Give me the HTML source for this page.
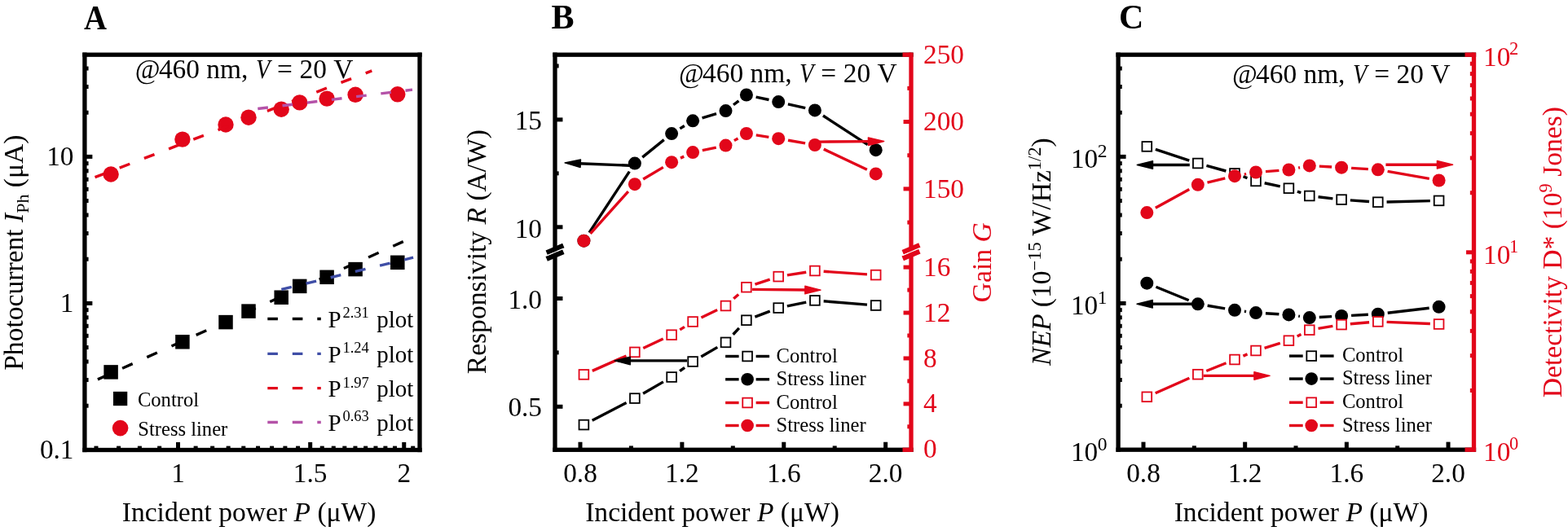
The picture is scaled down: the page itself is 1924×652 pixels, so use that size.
<!DOCTYPE html>
<html><head><meta charset="utf-8"><title>Figure</title>
<style>html,body{margin:0;padding:0;background:#fff;width:1924px;height:652px;overflow:hidden}svg{display:block}</style>
</head><body>
<svg width="1924" height="652" viewBox="0 0 1924 652" font-family="'Liberation Serif','Times New Roman',serif">
<rect width="1924" height="652" fill="#fff"/>
<rect x="127.35" y="448.15" width="17.5" height="17.5" fill="#000"/>
<rect x="215.15" y="411.05" width="17.5" height="17.5" fill="#000"/>
<rect x="268.25" y="386.85" width="17.5" height="17.5" fill="#000"/>
<rect x="296.25" y="373.35" width="17.5" height="17.5" fill="#000"/>
<rect x="336.45" y="356.45" width="17.5" height="17.5" fill="#000"/>
<rect x="358.95" y="342.65" width="17.5" height="17.5" fill="#000"/>
<rect x="392.35" y="331.55" width="17.5" height="17.5" fill="#000"/>
<rect x="427.35" y="321.85" width="17.5" height="17.5" fill="#000"/>
<rect x="479.05" y="313.55" width="17.5" height="17.5" fill="#000"/>
<circle cx="136.1" cy="214" r="9.7" fill="#e2061a"/>
<circle cx="223.9" cy="171.1" r="9.7" fill="#e2061a"/>
<circle cx="277" cy="153" r="9.7" fill="#e2061a"/>
<circle cx="305" cy="144.2" r="9.7" fill="#e2061a"/>
<circle cx="345.2" cy="134.2" r="9.7" fill="#e2061a"/>
<circle cx="367.7" cy="125.9" r="9.7" fill="#e2061a"/>
<circle cx="401.1" cy="121.1" r="9.7" fill="#e2061a"/>
<circle cx="436.1" cy="116.3" r="9.7" fill="#e2061a"/>
<circle cx="487.8" cy="115.8" r="9.7" fill="#e2061a"/>
<line x1="119.9" y1="465.9" x2="494.8" y2="296.64" stroke="#000" stroke-width="3.4" stroke-linecap="butt" stroke-dasharray="13.82 19.31"/>
<line x1="345.3" y1="355.4" x2="507.1" y2="316.19" stroke="#3f4ea6" stroke-width="3.4" stroke-linecap="butt" stroke-dasharray="12.96 18.11"/>
<line x1="116.5" y1="217.69" x2="456.3" y2="86.87" stroke="#e2061a" stroke-width="3.4" stroke-linecap="butt" stroke-dasharray="13.5 18.86"/>
<line x1="316.3" y1="133.5" x2="506" y2="110.15" stroke="#b452a8" stroke-width="3.4" stroke-linecap="butt" stroke-dasharray="12.7 17.73"/>
<rect x="101.25" y="64.55" width="416.4" height="5.3" fill="#000"/>
<rect x="101.25" y="549.85" width="416.4" height="5.3" fill="#000"/>
<rect x="101.25" y="64.55" width="5.3" height="490.6" fill="#000"/>
<rect x="512.35" y="64.55" width="5.3" height="490.6" fill="#000"/>
<rect x="216" y="542.95" width="5" height="7.9" fill="#000"/>
<rect x="378.18" y="542.95" width="5" height="7.9" fill="#000"/>
<rect x="493.25" y="542.95" width="5" height="7.9" fill="#000"/>
<rect x="115.48" y="547.65" width="5" height="3.2" fill="#000"/>
<rect x="143.07" y="547.65" width="5" height="3.2" fill="#000"/>
<rect x="168.89" y="547.65" width="5" height="3.2" fill="#000"/>
<rect x="193.14" y="547.65" width="5" height="3.2" fill="#000"/>
<rect x="237.63" y="547.65" width="5" height="3.2" fill="#000"/>
<rect x="258.14" y="547.65" width="5" height="3.2" fill="#000"/>
<rect x="277.66" y="547.65" width="5" height="3.2" fill="#000"/>
<rect x="296.27" y="547.65" width="5" height="3.2" fill="#000"/>
<rect x="314.05" y="547.65" width="5" height="3.2" fill="#000"/>
<rect x="331.07" y="547.65" width="5" height="3.2" fill="#000"/>
<rect x="347.4" y="547.65" width="5" height="3.2" fill="#000"/>
<rect x="363.08" y="547.65" width="5" height="3.2" fill="#000"/>
<rect x="392.73" y="547.65" width="5" height="3.2" fill="#000"/>
<rect x="406.76" y="547.65" width="5" height="3.2" fill="#000"/>
<rect x="420.32" y="547.65" width="5" height="3.2" fill="#000"/>
<rect x="433.44" y="547.65" width="5" height="3.2" fill="#000"/>
<rect x="446.14" y="547.65" width="5" height="3.2" fill="#000"/>
<rect x="458.45" y="547.65" width="5" height="3.2" fill="#000"/>
<rect x="470.39" y="547.65" width="5" height="3.2" fill="#000"/>
<rect x="481.98" y="547.65" width="5" height="3.2" fill="#000"/>
<rect x="504.21" y="547.65" width="5" height="3.2" fill="#000"/>
<rect x="105.55" y="549.9" width="7.8" height="5" fill="#000"/>
<rect x="105.55" y="369.9" width="7.8" height="5" fill="#000"/>
<rect x="105.55" y="189.9" width="7.8" height="5" fill="#000"/>
<rect x="105.55" y="495.71" width="3" height="5" fill="#000"/>
<rect x="105.55" y="464.02" width="3" height="5" fill="#000"/>
<rect x="105.55" y="441.53" width="3" height="5" fill="#000"/>
<rect x="105.55" y="424.09" width="3" height="5" fill="#000"/>
<rect x="105.55" y="409.83" width="3" height="5" fill="#000"/>
<rect x="105.55" y="397.78" width="3" height="5" fill="#000"/>
<rect x="105.55" y="387.34" width="3" height="5" fill="#000"/>
<rect x="105.55" y="378.14" width="3" height="5" fill="#000"/>
<rect x="105.55" y="315.71" width="3" height="5" fill="#000"/>
<rect x="105.55" y="284.02" width="3" height="5" fill="#000"/>
<rect x="105.55" y="261.53" width="3" height="5" fill="#000"/>
<rect x="105.55" y="244.09" width="3" height="5" fill="#000"/>
<rect x="105.55" y="229.83" width="3" height="5" fill="#000"/>
<rect x="105.55" y="217.78" width="3" height="5" fill="#000"/>
<rect x="105.55" y="207.34" width="3" height="5" fill="#000"/>
<rect x="105.55" y="198.14" width="3" height="5" fill="#000"/>
<rect x="105.55" y="135.71" width="3" height="5" fill="#000"/>
<rect x="105.55" y="104.02" width="3" height="5" fill="#000"/>
<rect x="105.55" y="81.53" width="3" height="5" fill="#000"/>
<text x="218.5" y="591.7" font-size="33.3" text-anchor="middle">1</text>
<text x="380.68" y="591.7" font-size="33.3" text-anchor="middle">1.5</text>
<text x="495.75" y="591.7" font-size="33.3" text-anchor="middle">2</text>
<text x="90.5" y="562.6" font-size="33.3" text-anchor="end">0.1</text>
<text x="90.5" y="382.6" font-size="33.3" text-anchor="end">1</text>
<text x="90.5" y="202.6" font-size="33.3" text-anchor="end">10</text>
<text x="103" y="36.3" font-size="42" font-weight="bold" textLength="28" lengthAdjust="spacingAndGlyphs">A</text>
<text y="95.7" font-size="33.4"><tspan x="165.8">@</tspan><tspan x="194.9">460 nm,</tspan><tspan x="340.05">=</tspan><tspan x="367.5">20</tspan><tspan x="409.35">V</tspan></text>
<text x="313.9" y="95.7" font-size="33.4" font-style="italic" textLength="17.4" lengthAdjust="spacingAndGlyphs">V</text>
<text x="305.6" y="640.3" font-size="33.6" text-anchor="middle">Incident power <tspan font-style="italic">P</tspan> (&#956;W)</text>
<text x="28.4" y="310.2" font-size="33.6" text-anchor="middle" transform="rotate(-90 28.4 310.2)">Photocurrent <tspan font-style="italic">I</tspan><tspan font-size="22" dy="7">Ph</tspan><tspan dy="-7"> (&#956;A)</tspan></text>
<rect x="138.95" y="480.85" width="17.3" height="17.3" fill="#000"/>
<text x="168.9" y="499.1" font-size="24.6">Control</text>
<circle cx="147.6" cy="525.6" r="9.8" fill="#e2061a"/>
<text x="169.3" y="534.6" font-size="24.6">Stress liner</text>
<line x1="328.3" y1="391.5" x2="393.8" y2="391.5" stroke="#000" stroke-width="3.4" stroke-linecap="butt" stroke-dasharray="12.6 17.9"/>
<text x="402.6" y="401.8" font-size="29">P</text>
<text x="420.4" y="390.4" font-size="18.5">2.31</text>
<text x="462.2" y="401.8" font-size="29">plot</text>
<line x1="328.3" y1="434.4" x2="393.8" y2="434.4" stroke="#3f4ea6" stroke-width="3.4" stroke-linecap="butt" stroke-dasharray="12.6 17.9"/>
<text x="402.6" y="444.7" font-size="29">P</text>
<text x="420.4" y="433.3" font-size="18.5">1.24</text>
<text x="462.2" y="444.7" font-size="29">plot</text>
<line x1="328.3" y1="476.6" x2="393.8" y2="476.6" stroke="#e2061a" stroke-width="3.4" stroke-linecap="butt" stroke-dasharray="12.6 17.9"/>
<text x="402.6" y="486.9" font-size="29">P</text>
<text x="420.4" y="475.5" font-size="18.5">1.97</text>
<text x="462.2" y="486.9" font-size="29">plot</text>
<line x1="328.3" y1="518.5" x2="393.8" y2="518.5" stroke="#b452a8" stroke-width="3.4" stroke-linecap="butt" stroke-dasharray="12.6 17.9"/>
<text x="402.6" y="528.8" font-size="29">P</text>
<text x="420.4" y="517.4" font-size="18.5">0.63</text>
<text x="462.2" y="528.8" font-size="29">plot</text>
<line x1="722.99" y1="285.67" x2="772.31" y2="210.63" stroke="#000" stroke-width="3.4" stroke-linecap="butt"/>
<line x1="788.24" y1="193.06" x2="814.76" y2="171.64" stroke="#000" stroke-width="3.4" stroke-linecap="butt"/>
<line x1="834.35" y1="157.87" x2="839.85" y2="154.53" stroke="#000" stroke-width="3.4" stroke-linecap="butt"/>
<line x1="861.59" y1="144.83" x2="879.01" y2="139.57" stroke="#000" stroke-width="3.4" stroke-linecap="butt"/>
<line x1="900" y1="128.77" x2="906.4" y2="123.83" stroke="#000" stroke-width="3.4" stroke-linecap="butt"/>
<line x1="927.62" y1="119.07" x2="943.48" y2="122.53" stroke="#000" stroke-width="3.4" stroke-linecap="butt"/>
<line x1="966.89" y1="127.79" x2="988.21" y2="132.71" stroke="#000" stroke-width="3.4" stroke-linecap="butt"/>
<line x1="1009.95" y1="141.96" x2="1064.65" y2="177.64" stroke="#000" stroke-width="3.4" stroke-linecap="butt"/>
<line x1="726.7" y1="516.24" x2="768.6" y2="494.46" stroke="#000" stroke-width="3.4" stroke-linecap="butt"/>
<line x1="789.11" y1="483.2" x2="813.89" y2="468.9" stroke="#000" stroke-width="3.4" stroke-linecap="butt"/>
<line x1="834.08" y1="455.71" x2="840.12" y2="451.29" stroke="#000" stroke-width="3.4" stroke-linecap="butt"/>
<line x1="860.3" y1="438.04" x2="880.3" y2="426.36" stroke="#000" stroke-width="3.4" stroke-linecap="butt"/>
<line x1="899.53" y1="410.73" x2="906.87" y2="402.87" stroke="#000" stroke-width="3.4" stroke-linecap="butt"/>
<line x1="926.38" y1="389.17" x2="944.72" y2="382.13" stroke="#000" stroke-width="3.4" stroke-linecap="butt"/>
<line x1="965.87" y1="375.9" x2="989.23" y2="371.1" stroke="#000" stroke-width="3.4" stroke-linecap="butt"/>
<line x1="1010.64" y1="369.78" x2="1063.96" y2="374.12" stroke="#000" stroke-width="3.4" stroke-linecap="butt"/>
<line x1="724.42" y1="286.78" x2="770.88" y2="235.12" stroke="#e2061a" stroke-width="3.4" stroke-linecap="butt"/>
<line x1="789.2" y1="220.05" x2="813.8" y2="205.35" stroke="#e2061a" stroke-width="3.4" stroke-linecap="butt"/>
<line x1="834.98" y1="194.14" x2="839.22" y2="192.16" stroke="#e2061a" stroke-width="3.4" stroke-linecap="butt"/>
<line x1="861.84" y1="184.63" x2="878.76" y2="181.07" stroke="#e2061a" stroke-width="3.4" stroke-linecap="butt"/>
<line x1="900.9" y1="172.62" x2="905.5" y2="169.98" stroke="#e2061a" stroke-width="3.4" stroke-linecap="butt"/>
<line x1="927.75" y1="165.87" x2="943.35" y2="168.33" stroke="#e2061a" stroke-width="3.4" stroke-linecap="butt"/>
<line x1="967.02" y1="172.26" x2="988.08" y2="175.94" stroke="#e2061a" stroke-width="3.4" stroke-linecap="butt"/>
<line x1="1010.75" y1="183.13" x2="1063.85" y2="208.27" stroke="#e2061a" stroke-width="3.4" stroke-linecap="butt"/>
<line x1="726.81" y1="455.32" x2="768.49" y2="436.98" stroke="#e2061a" stroke-width="3.4" stroke-linecap="butt"/>
<line x1="789.27" y1="427.54" x2="813.73" y2="416.06" stroke="#e2061a" stroke-width="3.4" stroke-linecap="butt"/>
<line x1="834.24" y1="404.88" x2="839.96" y2="401.32" stroke="#e2061a" stroke-width="3.4" stroke-linecap="butt"/>
<line x1="860.45" y1="390" x2="880.15" y2="380.5" stroke="#e2061a" stroke-width="3.4" stroke-linecap="butt"/>
<line x1="900.23" y1="366.77" x2="906.17" y2="361.43" stroke="#e2061a" stroke-width="3.4" stroke-linecap="butt"/>
<line x1="926.44" y1="349.19" x2="944.66" y2="343.11" stroke="#e2061a" stroke-width="3.4" stroke-linecap="butt"/>
<line x1="965.9" y1="337.9" x2="989.2" y2="334.2" stroke="#e2061a" stroke-width="3.4" stroke-linecap="butt"/>
<line x1="1010.64" y1="333.23" x2="1063.96" y2="336.87" stroke="#e2061a" stroke-width="3.4" stroke-linecap="butt"/>
<circle cx="716.4" cy="295.7" r="8" fill="#000"/>
<circle cx="778.9" cy="200.6" r="8" fill="#000"/>
<circle cx="824.1" cy="164.1" r="8" fill="#000"/>
<circle cx="850.1" cy="148.3" r="8" fill="#000"/>
<circle cx="890.5" cy="136.1" r="8" fill="#000"/>
<circle cx="915.9" cy="116.5" r="8" fill="#000"/>
<circle cx="955.2" cy="125.1" r="8" fill="#000"/>
<circle cx="999.9" cy="135.4" r="8" fill="#000"/>
<circle cx="1074.7" cy="184.2" r="8" fill="#000"/>
<rect x="710.55" y="515.75" width="11.7" height="11.7" fill="#fff" stroke="#000" stroke-width="1.8"/>
<rect x="773.05" y="483.25" width="11.7" height="11.7" fill="#fff" stroke="#000" stroke-width="1.8"/>
<rect x="818.25" y="457.15" width="11.7" height="11.7" fill="#fff" stroke="#000" stroke-width="1.8"/>
<rect x="844.25" y="438.15" width="11.7" height="11.7" fill="#fff" stroke="#000" stroke-width="1.8"/>
<rect x="884.65" y="414.55" width="11.7" height="11.7" fill="#fff" stroke="#000" stroke-width="1.8"/>
<rect x="910.05" y="387.35" width="11.7" height="11.7" fill="#fff" stroke="#000" stroke-width="1.8"/>
<rect x="949.35" y="372.25" width="11.7" height="11.7" fill="#fff" stroke="#000" stroke-width="1.8"/>
<rect x="994.05" y="363.05" width="11.7" height="11.7" fill="#fff" stroke="#000" stroke-width="1.8"/>
<rect x="1068.85" y="369.15" width="11.7" height="11.7" fill="#fff" stroke="#000" stroke-width="1.8"/>
<circle cx="716.4" cy="295.7" r="8" fill="#e2061a"/>
<circle cx="778.9" cy="226.2" r="8" fill="#e2061a"/>
<circle cx="824.1" cy="199.2" r="8" fill="#e2061a"/>
<circle cx="850.1" cy="187.1" r="8" fill="#e2061a"/>
<circle cx="890.5" cy="178.6" r="8" fill="#e2061a"/>
<circle cx="915.9" cy="164" r="8" fill="#e2061a"/>
<circle cx="955.2" cy="170.2" r="8" fill="#e2061a"/>
<circle cx="999.9" cy="178" r="8" fill="#e2061a"/>
<circle cx="1074.7" cy="213.4" r="8" fill="#e2061a"/>
<rect x="710.55" y="454.05" width="11.7" height="11.7" fill="#fff" stroke="#e2061a" stroke-width="1.8"/>
<rect x="773.05" y="426.55" width="11.7" height="11.7" fill="#fff" stroke="#e2061a" stroke-width="1.8"/>
<rect x="818.25" y="405.35" width="11.7" height="11.7" fill="#fff" stroke="#e2061a" stroke-width="1.8"/>
<rect x="844.25" y="389.15" width="11.7" height="11.7" fill="#fff" stroke="#e2061a" stroke-width="1.8"/>
<rect x="884.65" y="369.65" width="11.7" height="11.7" fill="#fff" stroke="#e2061a" stroke-width="1.8"/>
<rect x="910.05" y="346.85" width="11.7" height="11.7" fill="#fff" stroke="#e2061a" stroke-width="1.8"/>
<rect x="949.35" y="333.75" width="11.7" height="11.7" fill="#fff" stroke="#e2061a" stroke-width="1.8"/>
<rect x="994.05" y="326.65" width="11.7" height="11.7" fill="#fff" stroke="#e2061a" stroke-width="1.8"/>
<rect x="1068.85" y="331.75" width="11.7" height="11.7" fill="#fff" stroke="#e2061a" stroke-width="1.8"/>
<line x1="772.5" y1="203.2" x2="710.98" y2="200.68" stroke="#000" stroke-width="3.4" stroke-linecap="butt"/>
<path d="M693.06 199.95 L712.48 195.94 L712.09 205.53 Z" fill="#000" stroke="#000" stroke-width="1.4" stroke-linejoin="round"/>
<line x1="1006" y1="174.1" x2="1066.7" y2="173.64" stroke="#e2061a" stroke-width="3.4" stroke-linecap="butt"/>
<path d="M1084.64 173.51 L1065.44 178.45 L1065.36 168.85 Z" fill="#e2061a" stroke="#e2061a" stroke-width="1.4" stroke-linejoin="round"/>
<line x1="843" y1="442.9" x2="772" y2="442.9" stroke="#000" stroke-width="3.4" stroke-linecap="butt"/>
<path d="M754.06 442.9 L773.3 438.1 L773.3 447.7 Z" fill="#000" stroke="#000" stroke-width="1.4" stroke-linejoin="round"/>
<line x1="923" y1="355.4" x2="989.1" y2="355.94" stroke="#e2061a" stroke-width="3.4" stroke-linecap="butt"/>
<path d="M1007.04 356.09 L987.76 360.73 L987.84 351.13 Z" fill="#e2061a" stroke="#e2061a" stroke-width="1.4" stroke-linejoin="round"/>
<rect x="678.35" y="64.55" width="442.3" height="5.3" fill="#000"/>
<rect x="678.35" y="549.65" width="442.3" height="5.3" fill="#000"/>
<rect x="678.35" y="64.55" width="5.3" height="490.4" fill="#000"/>
<rect x="1115.35" y="64.55" width="5.3" height="490.4" fill="#e2061a"/>
<rect x="1107.5" y="64.55" width="10.5" height="5.3" fill="#e2061a"/>
<rect x="1107.5" y="549.65" width="10.5" height="5.3" fill="#e2061a"/>
<rect x="709.5" y="542.75" width="5" height="7.9" fill="#000"/>
<rect x="834.38" y="542.75" width="5" height="7.9" fill="#000"/>
<rect x="959.26" y="542.75" width="5" height="7.9" fill="#000"/>
<rect x="1084.14" y="542.75" width="5" height="7.9" fill="#000"/>
<rect x="771.94" y="547.45" width="5" height="3.2" fill="#000"/>
<rect x="896.82" y="547.45" width="5" height="3.2" fill="#000"/>
<rect x="1021.7" y="547.45" width="5" height="3.2" fill="#000"/>
<rect x="682.65" y="144.4" width="7.8" height="5" fill="#000"/>
<rect x="682.65" y="276.3" width="7.8" height="5" fill="#000"/>
<rect x="682.65" y="364" width="7.8" height="5" fill="#000"/>
<rect x="682.65" y="496.8" width="7.8" height="5" fill="#000"/>
<rect x="682.65" y="78.45" width="3" height="5" fill="#000"/>
<rect x="682.65" y="210.35" width="3" height="5" fill="#000"/>
<rect x="682.65" y="430.4" width="3" height="5" fill="#000"/>
<rect x="1108.55" y="147.05" width="7.8" height="5" fill="#e2061a"/>
<rect x="1108.55" y="229.4" width="7.8" height="5" fill="#e2061a"/>
<rect x="1108.55" y="325.62" width="7.8" height="5" fill="#e2061a"/>
<rect x="1108.55" y="381.54" width="7.8" height="5" fill="#e2061a"/>
<rect x="1108.55" y="437.46" width="7.8" height="5" fill="#e2061a"/>
<rect x="1108.55" y="493.38" width="7.8" height="5" fill="#e2061a"/>
<rect x="1113.35" y="105.88" width="3" height="5" fill="#e2061a"/>
<rect x="1113.35" y="188.23" width="3" height="5" fill="#e2061a"/>
<rect x="1113.35" y="270.57" width="3" height="5" fill="#e2061a"/>
<rect x="1113.35" y="353.58" width="3" height="5" fill="#e2061a"/>
<rect x="1113.35" y="409.5" width="3" height="5" fill="#e2061a"/>
<rect x="1113.35" y="465.42" width="3" height="5" fill="#e2061a"/>
<rect x="1113.35" y="521.34" width="3" height="5" fill="#e2061a"/>
<rect transform="translate(681 305.85) rotate(-23)" x="-11.2" y="-2.95" width="22.4" height="5.9" fill="#000"/>
<rect transform="translate(681 313.51) rotate(-23)" x="-11.2" y="-3.1" width="22.4" height="6.2" fill="#000"/>
<rect transform="translate(681 309.6) rotate(-23)" x="-11.2" y="-0.5" width="22.4" height="1" fill="#fff"/>
<rect transform="translate(1118 305.35) rotate(-23)" x="-11.2" y="-2.95" width="22.4" height="5.9" fill="#e2061a"/>
<rect transform="translate(1118 313.01) rotate(-23)" x="-11.2" y="-3.1" width="22.4" height="6.2" fill="#e2061a"/>
<rect transform="translate(1118 309.1) rotate(-23)" x="-11.2" y="-0.5" width="22.4" height="1" fill="#fff"/>
<text x="712" y="591.7" font-size="33.3" text-anchor="middle">0.8</text>
<text x="836.88" y="591.7" font-size="33.3" text-anchor="middle">1.2</text>
<text x="961.76" y="591.7" font-size="33.3" text-anchor="middle">1.6</text>
<text x="1086.64" y="591.7" font-size="33.3" text-anchor="middle">2.0</text>
<text x="665" y="158.8" font-size="33.3" text-anchor="end">15</text>
<text x="665" y="291.9" font-size="33.3" text-anchor="end">10</text>
<text x="665" y="379.2" font-size="33.3" text-anchor="end">1.0</text>
<text x="665" y="511.2" font-size="33.3" text-anchor="end">0.5</text>
<text x="1133" y="77.8" font-size="33.3" fill="#e2061a">250</text>
<text x="1133" y="160.15" font-size="33.3" fill="#e2061a">200</text>
<text x="1133" y="242.5" font-size="33.3" fill="#e2061a">150</text>
<text x="1133" y="338.72" font-size="33.3" fill="#e2061a">16</text>
<text x="1133" y="394.64" font-size="33.3" fill="#e2061a">12</text>
<text x="1133" y="450.56" font-size="33.3" fill="#e2061a">8</text>
<text x="1133" y="506.48" font-size="33.3" fill="#e2061a">4</text>
<text x="1133" y="562.4" font-size="33.3" fill="#e2061a">0</text>
<text x="676.5" y="34.9" font-size="42" font-weight="bold">B</text>
<text y="100.9" font-size="33.4"><tspan x="833">@</tspan><tspan x="862.1">460 nm,</tspan><tspan x="1007.25">=</tspan><tspan x="1034.7">20</tspan><tspan x="1076.55">V</tspan></text>
<text x="981.1" y="100.9" font-size="33.4" font-style="italic" textLength="17.4" lengthAdjust="spacingAndGlyphs">V</text>
<text x="874" y="640.3" font-size="33.6" text-anchor="middle">Incident power <tspan font-style="italic">P</tspan> (&#956;W)</text>
<text x="596" y="309.1" font-size="33.6" text-anchor="middle" transform="rotate(-90 596 309.1)">Responsivity <tspan font-style="italic">R</tspan> (A/W)</text>
<text x="1216.5" y="322.3" font-size="33.6" text-anchor="middle" fill="#e2061a" transform="rotate(-90 1216.5 322.3)">Gain <tspan font-style="italic">G</tspan></text>
<line x1="890.1" y1="437.5" x2="906.6" y2="437.5" stroke="#000" stroke-width="3.4" stroke-linecap="butt"/>
<line x1="927.6" y1="437.5" x2="944.1" y2="437.5" stroke="#000" stroke-width="3.4" stroke-linecap="butt"/>
<rect x="911.25" y="431.65" width="11.7" height="11.7" fill="#fff" stroke="#000" stroke-width="1.8"/>
<text x="952.6" y="444.7" font-size="24.6">Control</text>
<line x1="890.1" y1="465.8" x2="906.6" y2="465.8" stroke="#000" stroke-width="3.4" stroke-linecap="butt"/>
<line x1="927.6" y1="465.8" x2="944.1" y2="465.8" stroke="#000" stroke-width="3.4" stroke-linecap="butt"/>
<circle cx="917.1" cy="465.8" r="7.8" fill="#000"/>
<text x="952.6" y="473" font-size="24.6">Stress liner</text>
<line x1="890.1" y1="494.5" x2="906.6" y2="494.5" stroke="#e2061a" stroke-width="3.4" stroke-linecap="butt"/>
<line x1="927.6" y1="494.5" x2="944.1" y2="494.5" stroke="#e2061a" stroke-width="3.4" stroke-linecap="butt"/>
<rect x="911.25" y="488.65" width="11.7" height="11.7" fill="#fff" stroke="#e2061a" stroke-width="1.8"/>
<text x="952.6" y="501.7" font-size="24.6">Control</text>
<line x1="890.1" y1="522.5" x2="906.6" y2="522.5" stroke="#e2061a" stroke-width="3.4" stroke-linecap="butt"/>
<line x1="927.6" y1="522.5" x2="944.1" y2="522.5" stroke="#e2061a" stroke-width="3.4" stroke-linecap="butt"/>
<circle cx="917.1" cy="522.5" r="7.8" fill="#e2061a"/>
<text x="952.6" y="529.7" font-size="24.6">Stress liner</text>
<line x1="1417.85" y1="183.38" x2="1459.25" y2="197.02" stroke="#000" stroke-width="3.4" stroke-linecap="butt"/>
<line x1="1480.41" y1="203.41" x2="1504.39" y2="209.99" stroke="#000" stroke-width="3.4" stroke-linecap="butt"/>
<line x1="1525.51" y1="216.74" x2="1530.49" y2="218.56" stroke="#000" stroke-width="3.4" stroke-linecap="butt"/>
<line x1="1551.66" y1="224.72" x2="1570.74" y2="228.88" stroke="#000" stroke-width="3.4" stroke-linecap="butt"/>
<line x1="1591.91" y1="235.05" x2="1596.29" y2="236.65" stroke="#000" stroke-width="3.4" stroke-linecap="butt"/>
<line x1="1617.52" y1="241.76" x2="1635.38" y2="243.84" stroke="#000" stroke-width="3.4" stroke-linecap="butt"/>
<line x1="1656.84" y1="245.84" x2="1680.06" y2="247.46" stroke="#000" stroke-width="3.4" stroke-linecap="butt"/>
<line x1="1701.55" y1="247.94" x2="1754.85" y2="246.66" stroke="#000" stroke-width="3.4" stroke-linecap="butt"/>
<line x1="1418.4" y1="352.25" x2="1458.7" y2="368.75" stroke="#000" stroke-width="3.4" stroke-linecap="butt"/>
<line x1="1481.64" y1="375.26" x2="1503.16" y2="378.84" stroke="#000" stroke-width="3.4" stroke-linecap="butt"/>
<line x1="1526.9" y1="382.31" x2="1529.1" y2="382.59" stroke="#000" stroke-width="3.4" stroke-linecap="butt"/>
<line x1="1552.98" y1="384.78" x2="1569.42" y2="385.72" stroke="#000" stroke-width="3.4" stroke-linecap="butt"/>
<line x1="1593.27" y1="388.13" x2="1594.93" y2="388.37" stroke="#000" stroke-width="3.4" stroke-linecap="butt"/>
<line x1="1618.78" y1="389.46" x2="1634.12" y2="388.64" stroke="#000" stroke-width="3.4" stroke-linecap="butt"/>
<line x1="1658.08" y1="387.38" x2="1678.82" y2="386.32" stroke="#000" stroke-width="3.4" stroke-linecap="butt"/>
<line x1="1702.72" y1="384.28" x2="1753.68" y2="378.22" stroke="#000" stroke-width="3.4" stroke-linecap="butt"/>
<line x1="1417.82" y1="255.33" x2="1459.28" y2="232.57" stroke="#e2061a" stroke-width="3.4" stroke-linecap="butt"/>
<line x1="1481.48" y1="224.06" x2="1503.32" y2="218.94" stroke="#e2061a" stroke-width="3.4" stroke-linecap="butt"/>
<line x1="1526.81" y1="214.07" x2="1529.19" y2="213.63" stroke="#e2061a" stroke-width="3.4" stroke-linecap="butt"/>
<line x1="1552.97" y1="210.61" x2="1569.43" y2="209.39" stroke="#e2061a" stroke-width="3.4" stroke-linecap="butt"/>
<line x1="1593.17" y1="206.14" x2="1595.03" y2="205.76" stroke="#e2061a" stroke-width="3.4" stroke-linecap="butt"/>
<line x1="1618.78" y1="204.1" x2="1634.12" y2="205" stroke="#e2061a" stroke-width="3.4" stroke-linecap="butt"/>
<line x1="1658.08" y1="206.4" x2="1678.82" y2="207.6" stroke="#e2061a" stroke-width="3.4" stroke-linecap="butt"/>
<line x1="1702.62" y1="210.39" x2="1753.78" y2="219.41" stroke="#e2061a" stroke-width="3.4" stroke-linecap="butt"/>
<line x1="1417.71" y1="482.7" x2="1459.39" y2="464.3" stroke="#e2061a" stroke-width="3.4" stroke-linecap="butt"/>
<line x1="1480.26" y1="455.49" x2="1504.54" y2="445.71" stroke="#e2061a" stroke-width="3.4" stroke-linecap="butt"/>
<line x1="1525.43" y1="437.09" x2="1530.57" y2="434.91" stroke="#e2061a" stroke-width="3.4" stroke-linecap="butt"/>
<line x1="1551.58" y1="427.28" x2="1570.82" y2="421.42" stroke="#e2061a" stroke-width="3.4" stroke-linecap="butt"/>
<line x1="1591.71" y1="412.92" x2="1596.49" y2="410.48" stroke="#e2061a" stroke-width="3.4" stroke-linecap="butt"/>
<line x1="1617.49" y1="403.4" x2="1635.41" y2="400.4" stroke="#e2061a" stroke-width="3.4" stroke-linecap="butt"/>
<line x1="1656.84" y1="397.71" x2="1680.06" y2="395.79" stroke="#e2061a" stroke-width="3.4" stroke-linecap="butt"/>
<line x1="1701.55" y1="395.35" x2="1754.85" y2="397.55" stroke="#e2061a" stroke-width="3.4" stroke-linecap="butt"/>
<rect x="1401.45" y="174.05" width="11.7" height="11.7" fill="#fff" stroke="#000" stroke-width="1.8"/>
<rect x="1463.95" y="194.65" width="11.7" height="11.7" fill="#fff" stroke="#000" stroke-width="1.8"/>
<rect x="1509.15" y="207.05" width="11.7" height="11.7" fill="#fff" stroke="#000" stroke-width="1.8"/>
<rect x="1535.15" y="216.55" width="11.7" height="11.7" fill="#fff" stroke="#000" stroke-width="1.8"/>
<rect x="1575.55" y="225.35" width="11.7" height="11.7" fill="#fff" stroke="#000" stroke-width="1.8"/>
<rect x="1600.95" y="234.65" width="11.7" height="11.7" fill="#fff" stroke="#000" stroke-width="1.8"/>
<rect x="1640.25" y="239.25" width="11.7" height="11.7" fill="#fff" stroke="#000" stroke-width="1.8"/>
<rect x="1684.95" y="242.35" width="11.7" height="11.7" fill="#fff" stroke="#000" stroke-width="1.8"/>
<rect x="1759.75" y="240.55" width="11.7" height="11.7" fill="#fff" stroke="#000" stroke-width="1.8"/>
<circle cx="1407.3" cy="347.7" r="8" fill="#000"/>
<circle cx="1469.8" cy="373.3" r="8" fill="#000"/>
<circle cx="1515" cy="380.8" r="8" fill="#000"/>
<circle cx="1541" cy="384.1" r="8" fill="#000"/>
<circle cx="1581.4" cy="386.4" r="8" fill="#000"/>
<circle cx="1606.8" cy="390.1" r="8" fill="#000"/>
<circle cx="1646.1" cy="388" r="8" fill="#000"/>
<circle cx="1690.8" cy="385.7" r="8" fill="#000"/>
<circle cx="1765.6" cy="376.8" r="8" fill="#000"/>
<circle cx="1407.3" cy="261.1" r="8" fill="#e2061a"/>
<circle cx="1469.8" cy="226.8" r="8" fill="#e2061a"/>
<circle cx="1515" cy="216.2" r="8" fill="#e2061a"/>
<circle cx="1541" cy="211.5" r="8" fill="#e2061a"/>
<circle cx="1581.4" cy="208.5" r="8" fill="#e2061a"/>
<circle cx="1606.8" cy="203.4" r="8" fill="#e2061a"/>
<circle cx="1646.1" cy="205.7" r="8" fill="#e2061a"/>
<circle cx="1690.8" cy="208.3" r="8" fill="#e2061a"/>
<circle cx="1765.6" cy="221.5" r="8" fill="#e2061a"/>
<rect x="1401.45" y="481.45" width="11.7" height="11.7" fill="#fff" stroke="#e2061a" stroke-width="1.8"/>
<rect x="1463.95" y="453.85" width="11.7" height="11.7" fill="#fff" stroke="#e2061a" stroke-width="1.8"/>
<rect x="1509.15" y="435.65" width="11.7" height="11.7" fill="#fff" stroke="#e2061a" stroke-width="1.8"/>
<rect x="1535.15" y="424.65" width="11.7" height="11.7" fill="#fff" stroke="#e2061a" stroke-width="1.8"/>
<rect x="1575.55" y="412.35" width="11.7" height="11.7" fill="#fff" stroke="#e2061a" stroke-width="1.8"/>
<rect x="1600.95" y="399.35" width="11.7" height="11.7" fill="#fff" stroke="#e2061a" stroke-width="1.8"/>
<rect x="1640.25" y="392.75" width="11.7" height="11.7" fill="#fff" stroke="#e2061a" stroke-width="1.8"/>
<rect x="1684.95" y="389.05" width="11.7" height="11.7" fill="#fff" stroke="#e2061a" stroke-width="1.8"/>
<rect x="1759.75" y="392.15" width="11.7" height="11.7" fill="#fff" stroke="#e2061a" stroke-width="1.8"/>
<line x1="1459.8" y1="202.5" x2="1413.2" y2="202.5" stroke="#000" stroke-width="3.4" stroke-linecap="butt"/>
<path d="M1395.26 202.5 L1414.5 197.7 L1414.5 207.3 Z" fill="#000" stroke="#000" stroke-width="1.4" stroke-linejoin="round"/>
<line x1="1700.4" y1="202.2" x2="1764.7" y2="202.2" stroke="#e2061a" stroke-width="3.4" stroke-linecap="butt"/>
<path d="M1782.64 202.2 L1763.4 207 L1763.4 197.4 Z" fill="#e2061a" stroke="#e2061a" stroke-width="1.4" stroke-linejoin="round"/>
<line x1="1462.8" y1="373.3" x2="1413" y2="373.3" stroke="#000" stroke-width="3.4" stroke-linecap="butt"/>
<path d="M1395.06 373.3 L1414.3 368.5 L1414.3 378.1 Z" fill="#000" stroke="#000" stroke-width="1.4" stroke-linejoin="round"/>
<line x1="1476.6" y1="461.4" x2="1540.2" y2="461.4" stroke="#e2061a" stroke-width="3.4" stroke-linecap="butt"/>
<path d="M1558.14 461.4 L1538.9 466.2 L1538.9 456.6 Z" fill="#e2061a" stroke="#e2061a" stroke-width="1.4" stroke-linejoin="round"/>
<rect x="1369.45" y="64.55" width="441.7" height="5.3" fill="#000"/>
<rect x="1369.45" y="549.55" width="441.7" height="5.3" fill="#000"/>
<rect x="1369.45" y="64.55" width="5.3" height="490.3" fill="#000"/>
<rect x="1805.85" y="64.55" width="5.3" height="490.3" fill="#e2061a"/>
<rect x="1797.5" y="64.55" width="11" height="5.3" fill="#e2061a"/>
<rect x="1797.5" y="549.55" width="11" height="5.3" fill="#e2061a"/>
<rect x="1400.5" y="542.65" width="5" height="7.9" fill="#000"/>
<rect x="1525.18" y="542.65" width="5" height="7.9" fill="#000"/>
<rect x="1649.86" y="542.65" width="5" height="7.9" fill="#000"/>
<rect x="1774.54" y="542.65" width="5" height="7.9" fill="#000"/>
<rect x="1462.84" y="547.35" width="5" height="3.2" fill="#000"/>
<rect x="1587.52" y="547.35" width="5" height="3.2" fill="#000"/>
<rect x="1712.2" y="547.35" width="5" height="3.2" fill="#000"/>
<rect x="1373.75" y="369.9" width="7.8" height="5" fill="#000"/>
<rect x="1373.75" y="189.9" width="7.8" height="5" fill="#000"/>
<rect x="1373.75" y="495.71" width="3" height="5" fill="#000"/>
<rect x="1373.75" y="464.02" width="3" height="5" fill="#000"/>
<rect x="1373.75" y="441.53" width="3" height="5" fill="#000"/>
<rect x="1373.75" y="424.09" width="3" height="5" fill="#000"/>
<rect x="1373.75" y="409.83" width="3" height="5" fill="#000"/>
<rect x="1373.75" y="397.78" width="3" height="5" fill="#000"/>
<rect x="1373.75" y="387.34" width="3" height="5" fill="#000"/>
<rect x="1373.75" y="378.14" width="3" height="5" fill="#000"/>
<rect x="1373.75" y="315.71" width="3" height="5" fill="#000"/>
<rect x="1373.75" y="284.02" width="3" height="5" fill="#000"/>
<rect x="1373.75" y="261.53" width="3" height="5" fill="#000"/>
<rect x="1373.75" y="244.09" width="3" height="5" fill="#000"/>
<rect x="1373.75" y="229.83" width="3" height="5" fill="#000"/>
<rect x="1373.75" y="217.78" width="3" height="5" fill="#000"/>
<rect x="1373.75" y="207.34" width="3" height="5" fill="#000"/>
<rect x="1373.75" y="198.14" width="3" height="5" fill="#000"/>
<rect x="1373.75" y="135.71" width="3" height="5" fill="#000"/>
<rect x="1373.75" y="104.02" width="3" height="5" fill="#000"/>
<rect x="1373.75" y="81.53" width="3" height="5" fill="#000"/>
<rect x="1799.05" y="307.3" width="7.8" height="5" fill="#e2061a"/>
<rect x="1803.85" y="476.94" width="3" height="5" fill="#e2061a"/>
<rect x="1803.85" y="434.2" width="3" height="5" fill="#e2061a"/>
<rect x="1803.85" y="403.88" width="3" height="5" fill="#e2061a"/>
<rect x="1803.85" y="380.36" width="3" height="5" fill="#e2061a"/>
<rect x="1803.85" y="361.14" width="3" height="5" fill="#e2061a"/>
<rect x="1803.85" y="344.89" width="3" height="5" fill="#e2061a"/>
<rect x="1803.85" y="330.82" width="3" height="5" fill="#e2061a"/>
<rect x="1803.85" y="318.41" width="3" height="5" fill="#e2061a"/>
<rect x="1803.85" y="234.24" width="3" height="5" fill="#e2061a"/>
<rect x="1803.85" y="191.5" width="3" height="5" fill="#e2061a"/>
<rect x="1803.85" y="161.18" width="3" height="5" fill="#e2061a"/>
<rect x="1803.85" y="137.66" width="3" height="5" fill="#e2061a"/>
<rect x="1803.85" y="118.44" width="3" height="5" fill="#e2061a"/>
<rect x="1803.85" y="102.19" width="3" height="5" fill="#e2061a"/>
<rect x="1803.85" y="88.12" width="3" height="5" fill="#e2061a"/>
<rect x="1803.85" y="75.71" width="3" height="5" fill="#e2061a"/>
<text x="1403" y="591.7" font-size="33.3" text-anchor="middle">0.8</text>
<text x="1527.68" y="591.7" font-size="33.3" text-anchor="middle">1.2</text>
<text x="1652.36" y="591.7" font-size="33.3" text-anchor="middle">1.6</text>
<text x="1777.04" y="591.7" font-size="33.3" text-anchor="middle">2.0</text>
<text x="1347.2" y="566" font-size="33.3" text-anchor="end">10</text>
<text x="1346.8" y="553.2" font-size="23.5">0</text>
<text x="1347.2" y="386" font-size="33.3" text-anchor="end">10</text>
<text x="1346.8" y="373.2" font-size="23.5">1</text>
<text x="1347.2" y="206" font-size="33.3" text-anchor="end">10</text>
<text x="1346.8" y="193.2" font-size="23.5">2</text>
<text x="1820" y="566.2" font-size="33.3" fill="#e2061a">10</text>
<text x="1852" y="552.4" font-size="22.5" fill="#e2061a">0</text>
<text x="1820" y="323.5" font-size="33.3" fill="#e2061a">10</text>
<text x="1852" y="309.7" font-size="22.5" fill="#e2061a">1</text>
<text x="1820" y="80.8" font-size="33.3" fill="#e2061a">10</text>
<text x="1852" y="67" font-size="22.5" fill="#e2061a">2</text>
<text x="1373" y="34.9" font-size="42" font-weight="bold">C</text>
<text y="101.6" font-size="33.4"><tspan x="1511.9">@</tspan><tspan x="1541">460 nm,</tspan><tspan x="1686.15">=</tspan><tspan x="1713.6">20</tspan><tspan x="1755.45">V</tspan></text>
<text x="1660" y="101.6" font-size="33.4" font-style="italic" textLength="17.4" lengthAdjust="spacingAndGlyphs">V</text>
<text x="1596.5" y="640.4" font-size="33.6" text-anchor="middle">Incident power <tspan font-style="italic">P</tspan> (&#956;W)</text>
<text x="1289.5" y="309.1" font-size="33.6" text-anchor="middle" transform="rotate(-90 1289.5 309.1)"><tspan font-style="italic">NEP</tspan> (10<tspan font-size="22.5" dy="-12">&#8722;15</tspan><tspan dy="12"> W/Hz</tspan><tspan font-size="22.5" dy="-12">1/2</tspan><tspan dy="12">)</tspan></text>
<text x="1916.5" y="309.6" font-size="33.6" text-anchor="middle" fill="#e2061a" transform="rotate(-90 1916.5 309.6)">Detectivity D* (10<tspan font-size="22.5" dy="-12">9</tspan><tspan dy="12"> Jones)</tspan></text>
<line x1="1582" y1="437.1" x2="1598.7" y2="437.1" stroke="#000" stroke-width="3.4" stroke-linecap="butt"/>
<line x1="1619.7" y1="437.1" x2="1636.6" y2="437.1" stroke="#000" stroke-width="3.4" stroke-linecap="butt"/>
<rect x="1603.35" y="431.25" width="11.7" height="11.7" fill="#fff" stroke="#000" stroke-width="1.8"/>
<text x="1646.9" y="444.3" font-size="24.6">Control</text>
<line x1="1582" y1="465.1" x2="1598.7" y2="465.1" stroke="#000" stroke-width="3.4" stroke-linecap="butt"/>
<line x1="1619.7" y1="465.1" x2="1636.6" y2="465.1" stroke="#000" stroke-width="3.4" stroke-linecap="butt"/>
<circle cx="1609.2" cy="465.1" r="7.8" fill="#000"/>
<text x="1646.9" y="472.3" font-size="24.6">Stress liner</text>
<line x1="1582" y1="494.2" x2="1598.7" y2="494.2" stroke="#e2061a" stroke-width="3.4" stroke-linecap="butt"/>
<line x1="1619.7" y1="494.2" x2="1636.6" y2="494.2" stroke="#e2061a" stroke-width="3.4" stroke-linecap="butt"/>
<rect x="1603.35" y="488.35" width="11.7" height="11.7" fill="#fff" stroke="#e2061a" stroke-width="1.8"/>
<text x="1646.9" y="501.4" font-size="24.6">Control</text>
<line x1="1582" y1="522.5" x2="1598.7" y2="522.5" stroke="#e2061a" stroke-width="3.4" stroke-linecap="butt"/>
<line x1="1619.7" y1="522.5" x2="1636.6" y2="522.5" stroke="#e2061a" stroke-width="3.4" stroke-linecap="butt"/>
<circle cx="1609.2" cy="522.5" r="7.8" fill="#e2061a"/>
<text x="1646.9" y="529.7" font-size="24.6">Stress liner</text>
</svg>
</body></html>
